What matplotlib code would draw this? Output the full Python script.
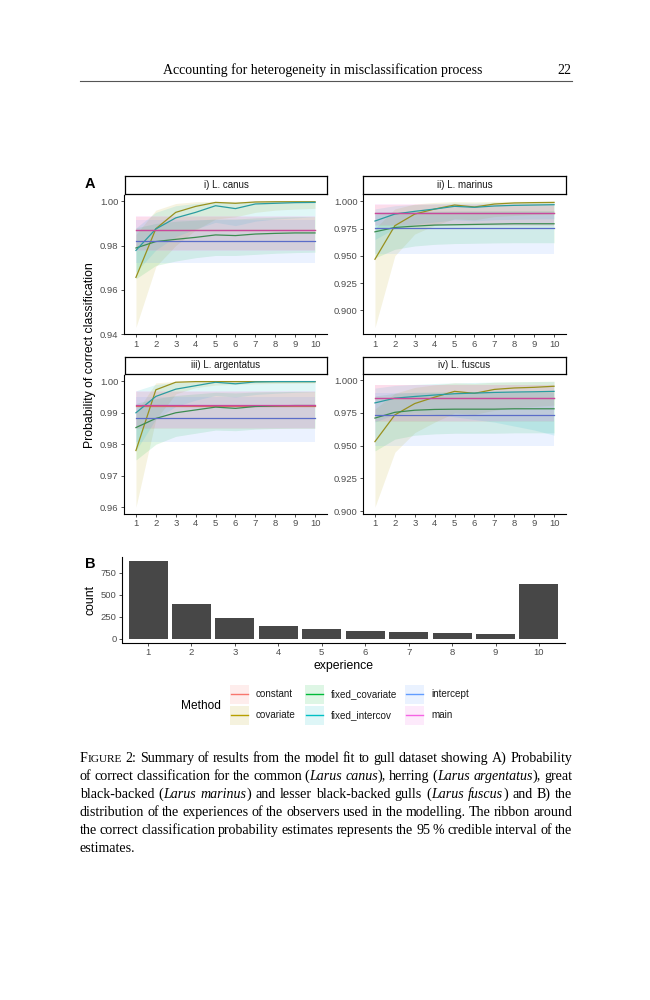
import matplotlib
matplotlib.use('Agg')
import matplotlib.pyplot as plt
import numpy as np
from matplotlib.patches import Rectangle
from matplotlib.lines import Line2D

# ---------------- data ----------------
experience = list(range(1, 11))
methods = ["constant", "covariate", "fixed_covariate", "fixed_intercov", "intercept", "main"]
species_titles = ["i) L. canus", "ii) L. marinus", "iii) L. argentatus", "iv) L. fuscus"]

# i) L. canus
canus_covariate = [0.9656, 0.9876, 0.9950, 0.9977, 0.9995, 0.9991, 0.9997, 0.9998, 0.9998, 0.9998]
canus_covariate_lo = [0.9430, 0.9705, 0.9800, 0.9870, 0.9920, 0.9930, 0.9950, 0.9960, 0.9965, 0.9968]
canus_covariate_hi = [0.9850, 0.9960, 0.9990, 0.9998, 1.0, 1.0, 1.0, 1.0, 1.0, 1.0]
canus_fixed_intercov = [0.9778, 0.9875, 0.9925, 0.9950, 0.9980, 0.9967, 0.9988, 0.9991, 0.9994, 0.9995]
canus_fixed_intercov_lo = [0.9680, 0.9780, 0.9840, 0.9875, 0.9905, 0.9890, 0.9910, 0.9920, 0.9925, 0.9930]
canus_fixed_intercov_hi = [0.9880, 0.9950, 0.9980, 0.9990, 0.9997, 0.9995, 0.9999, 1.0, 1.0, 1.0]
canus_fixed_covariate = [0.9789, 0.9818, 0.9828, 0.9837, 0.9848, 0.9845, 0.9852, 0.9855, 0.9857, 0.9857]
canus_fixed_covariate_lo = [0.9650, 0.9710, 0.9730, 0.9745, 0.9755, 0.9755, 0.9760, 0.9765, 0.9768, 0.9770]
canus_fixed_covariate_hi = [0.9880, 0.9900, 0.9910, 0.9915, 0.9920, 0.9920, 0.9925, 0.9928, 0.9930, 0.9930]
canus_flat = {"constant": (0.9868, 0.9780, 0.9930), "intercept": (0.9822, 0.9720, 0.9915), "main": (0.9870, 0.9774, 0.9934)}

# ii) L. marinus
marinus_covariate = [0.9468, 0.9776, 0.9883, 0.9929, 0.9966, 0.9948, 0.9975, 0.9985, 0.9988, 0.9990]
marinus_covariate_lo = [0.8840, 0.9500, 0.9700, 0.9780, 0.9840, 0.9830, 0.9860, 0.9870, 0.9880, 0.9885]
marinus_covariate_hi = [0.9750, 0.9930, 0.9975, 0.9990, 0.9998, 0.9995, 0.9999, 1.0, 1.0, 1.0]
marinus_fixed_intercov = [0.9819, 0.9883, 0.9908, 0.9929, 0.9954, 0.9945, 0.9957, 0.9963, 0.9966, 0.9969]
marinus_fixed_intercov_lo = [0.9650, 0.9750, 0.9790, 0.9810, 0.9830, 0.9820, 0.9830, 0.9835, 0.9838, 0.9840]
marinus_fixed_intercov_hi = [0.9930, 0.9960, 0.9970, 0.9978, 0.9985, 0.9983, 0.9987, 0.9989, 0.9990, 0.9991]
marinus_fixed_covariate = [0.9720, 0.9760, 0.9772, 0.9782, 0.9785, 0.9788, 0.9791, 0.9794, 0.9794, 0.9794]
marinus_fixed_covariate_lo = [0.9480, 0.9560, 0.9590, 0.9605, 0.9612, 0.9615, 0.9618, 0.9620, 0.9620, 0.9620]
marinus_fixed_covariate_hi = [0.9880, 0.9900, 0.9905, 0.9910, 0.9912, 0.9913, 0.9914, 0.9915, 0.9915, 0.9915]
marinus_flat = {"constant": (0.9893, 0.9770, 0.9970), "intercept": (0.9751, 0.9517, 0.9900), "main": (0.9895, 0.9780, 0.9975)}

# iii) L. argentatus
argentatus_covariate = [0.9780, 0.9973, 0.9997, 0.9999, 0.9999, 0.9999, 0.9999, 0.9999, 0.9999, 0.9999]
argentatus_covariate_lo = [0.9600, 0.9880, 0.9960, 0.9980, 0.9988, 0.9990, 0.9992, 0.9993, 0.9994, 0.9995]
argentatus_covariate_hi = [0.9900, 0.9995, 1.0, 1.0, 1.0, 1.0, 1.0, 1.0, 1.0, 1.0]
argentatus_fixed_intercov = [0.9900, 0.9952, 0.9975, 0.9986, 0.9997, 0.9992, 0.9998, 0.9999, 0.9999, 0.9999]
argentatus_fixed_intercov_lo = [0.9780, 0.9880, 0.9920, 0.9940, 0.9955, 0.9950, 0.9958, 0.9962, 0.9965, 0.9967]
argentatus_fixed_intercov_hi = [0.9970, 0.9990, 0.9996, 0.9998, 1.0, 1.0, 1.0, 1.0, 1.0, 1.0]
argentatus_fixed_covariate = [0.9853, 0.9882, 0.9900, 0.9909, 0.9918, 0.9914, 0.9920, 0.9922, 0.9923, 0.9923]
argentatus_fixed_covariate_lo = [0.9750, 0.9800, 0.9825, 0.9835, 0.9845, 0.9843, 0.9848, 0.9850, 0.9851, 0.9851]
argentatus_fixed_covariate_hi = [0.9930, 0.9945, 0.9955, 0.9960, 0.9965, 0.9963, 0.9966, 0.9967, 0.9968, 0.9968]
argentatus_flat = {"constant": (0.9923, 0.9850, 0.9967), "intercept": (0.9884, 0.9808, 0.9950), "main": (0.9925, 0.9853, 0.9969)}

# iv) L. fuscus
fuscus_covariate = [0.9531, 0.9735, 0.9822, 0.9871, 0.9915, 0.9900, 0.9930, 0.9941, 0.9946, 0.9954]
fuscus_covariate_lo = [0.9030, 0.9450, 0.9600, 0.9680, 0.9750, 0.9740, 0.9770, 0.9790, 0.9800, 0.9810]
fuscus_covariate_hi = [0.9780, 0.9900, 0.9945, 0.9965, 0.9980, 0.9975, 0.9985, 0.9988, 0.9990, 0.9992]
fuscus_fixed_intercov = [0.9827, 0.9863, 0.9876, 0.9887, 0.9897, 0.9902, 0.9907, 0.9910, 0.9912, 0.9915]
fuscus_fixed_intercov_lo = [0.9680, 0.9740, 0.9750, 0.9740, 0.9720, 0.9700, 0.9680, 0.9650, 0.9620, 0.9580]
fuscus_fixed_intercov_hi = [0.9940, 0.9960, 0.9968, 0.9975, 0.9980, 0.9983, 0.9986, 0.9988, 0.9990, 0.9992]
fuscus_fixed_covariate = [0.9711, 0.9755, 0.9771, 0.9777, 0.9779, 0.9779, 0.9779, 0.9782, 0.9782, 0.9782]
fuscus_fixed_covariate_lo = [0.9460, 0.9550, 0.9580, 0.9590, 0.9595, 0.9595, 0.9595, 0.9598, 0.9598, 0.9598]
fuscus_fixed_covariate_hi = [0.9880, 0.9900, 0.9908, 0.9910, 0.9912, 0.9912, 0.9912, 0.9913, 0.9913, 0.9913]
fuscus_flat = {"constant": (0.9862, 0.9680, 0.9960), "intercept": (0.9732, 0.9500, 0.9900), "main": (0.9866, 0.9686, 0.9964)}

panel_yticks = [[0.94, 0.96, 0.98, 1.00],
                [0.900, 0.925, 0.950, 0.975, 1.000],
                [0.96, 0.97, 0.98, 0.99, 1.00],
                [0.900, 0.925, 0.950, 0.975, 1.000]]
panel_yfmt = ["%.2f", "%.3f", "%.2f", "%.3f"]

experience_counts = [884, 392, 229, 149, 114, 91, 80, 61, 53, 621]
count_ticks = [0, 250, 500, 750]

panels = [
    dict(covariate=(canus_covariate, canus_covariate_lo, canus_covariate_hi),
         fixed_covariate=(canus_fixed_covariate, canus_fixed_covariate_lo, canus_fixed_covariate_hi),
         fixed_intercov=(canus_fixed_intercov, canus_fixed_intercov_lo, canus_fixed_intercov_hi),
         flat=canus_flat),
    dict(covariate=(marinus_covariate, marinus_covariate_lo, marinus_covariate_hi),
         fixed_covariate=(marinus_fixed_covariate, marinus_fixed_covariate_lo, marinus_fixed_covariate_hi),
         fixed_intercov=(marinus_fixed_intercov, marinus_fixed_intercov_lo, marinus_fixed_intercov_hi),
         flat=marinus_flat),
    dict(covariate=(argentatus_covariate, argentatus_covariate_lo, argentatus_covariate_hi),
         fixed_covariate=(argentatus_fixed_covariate, argentatus_fixed_covariate_lo, argentatus_fixed_covariate_hi),
         fixed_intercov=(argentatus_fixed_intercov, argentatus_fixed_intercov_lo, argentatus_fixed_intercov_hi),
         flat=argentatus_flat),
    dict(covariate=(fuscus_covariate, fuscus_covariate_lo, fuscus_covariate_hi),
         fixed_covariate=(fuscus_fixed_covariate, fuscus_fixed_covariate_lo, fuscus_fixed_covariate_hi),
         fixed_intercov=(fuscus_fixed_intercov, fuscus_fixed_intercov_lo, fuscus_fixed_intercov_hi),
         flat=fuscus_flat),
]

fill_colors = {"constant": "#F8766D", "covariate": "#B79F00", "fixed_covariate": "#00BA38",
               "fixed_intercov": "#00BFC4", "intercept": "#619CFF", "main": "#F564E3"}
line_colors = {"constant": "#D86A64", "covariate": "#98901E", "fixed_covariate": "#3C8C50",
               "fixed_intercov": "#2A9CA0", "intercept": "#5A6CC8", "main": "#C8489C"}

# ---------------- figure ----------------
W, H = 650, 1000
fig = plt.figure(figsize=(6.5, 10), dpi=100)
SANS = ['Liberation Sans', 'DejaVu Sans']
SERIF = ['Liberation Serif', 'DejaVu Serif']
TICKC = '#4D4D4D'


def px_axes(x0, y0, x1, y1, **kw):
    return fig.add_axes([x0 / W, 1 - y1 / H, (x1 - x0) / W, (y1 - y0) / H], **kw)


def style_axes(ax):
    for s in ['top', 'right']:
        ax.spines[s].set_visible(False)
    for s in ['left', 'bottom']:
        ax.spines[s].set_linewidth(0.8)
        ax.spines[s].set_color('black')
    ax.tick_params(length=2.5, width=0.6, color='#333333', labelsize=6.8,
                   labelcolor=TICKC, pad=1.5)
    for lab in ax.get_xticklabels() + ax.get_yticklabels():
        lab.set_family(SANS)


panel_boxes = [(124, 195, 327, 334), (363, 195, 566, 334),
               (124, 375, 327, 513.5), (363, 375, 566, 513.5)]
strip_boxes = [(125, 176, 327, 194), (363, 176, 566, 194),
               (125, 357, 327, 374), (363, 357, 566, 374)]

x = np.array(experience)
for i, pdata in enumerate(panels):
    ax = px_axes(*panel_boxes[i])
    lows, highs = [], []
    for m in methods:
        if m in pdata['flat']:
            mu, lo, hi = pdata['flat'][m]
            lo_a = np.full(10, lo)
            hi_a = np.full(10, hi)
        else:
            mu, lo_a, hi_a = pdata[m]
            lo_a, hi_a = np.array(lo_a), np.array(hi_a)
        lows.append(lo_a.min())
        highs.append(hi_a.max())
        ax.fill_between(x, lo_a, hi_a, color=fill_colors[m], alpha=0.12, linewidth=0)
    for m in methods:
        if m in pdata['flat']:
            mu_a = np.full(10, pdata['flat'][m][0])
        else:
            mu_a = np.array(pdata[m][0])
        ax.plot(x, mu_a, color=line_colors[m], lw=0.9)
    lo_all, hi_all = min(lows), max(highs)
    pad = 0.05 * (hi_all - lo_all)
    ax.set_ylim(lo_all - pad, hi_all + pad)
    ax.set_xlim(0.4, 10.6)
    ax.set_xticks(experience)
    ax.set_xticklabels([str(v) for v in experience])
    ax.set_yticks(panel_yticks[i])
    ax.set_yticklabels([panel_yfmt[i] % v for v in panel_yticks[i]])
    ax.set_facecolor('white')
    style_axes(ax)

    sax = px_axes(*strip_boxes[i])
    sax.set_xticks([])
    sax.set_yticks([])
    for s in sax.spines.values():
        s.set_linewidth(0.9)
        s.set_color('black')
    sax.text(0.5, 0.5, species_titles[i], ha='center', va='center', fontsize=7.0,
             color='#1A1A1A', family=SANS, transform=sax.transAxes)

# bar chart B
bax = px_axes(122, 557, 565, 642.5)
bax.bar(experience, experience_counts, width=0.9, color='#474747')
bax.set_xlim(0.4, 10.6)
top = max(experience_counts)
bax.set_ylim(-0.05 * top, 1.05 * top)
bax.set_xticks(experience)
bax.set_xticklabels([str(v) for v in experience])
bax.set_yticks(count_ticks)
bax.set_yticklabels([str(v) for v in count_ticks])
style_axes(bax)
bax.set_xlabel('experience', fontsize=8.8, family=SANS, labelpad=2)

# ---------------- overlay for text & legend ----------------
ov = fig.add_axes([0, 0, 1, 1], zorder=-1)
ov.set_xlim(0, W)
ov.set_ylim(H, 0)
ov.axis('off')

ov.text(90, 184, 'A', fontsize=10.5, fontweight='bold', family=SANS, ha='center', va='center')
ov.text(90, 564, 'B', fontsize=10.5, fontweight='bold', family=SANS, ha='center', va='center')
ov.text(90, 355, 'Probability of correct classification', rotation=90, fontsize=8.8,
        family=SANS, ha='center', va='center')
ov.text(90, 600, 'count', rotation=90, fontsize=8.8, family=SANS, ha='center', va='center')

# legend
ov.text(181, 706, 'Method', fontsize=8.6, family=SANS, ha='left', va='center')
leg_cols = [(230, 256), (305, 331), (405, 431)]
leg_rows = [694, 715]
for k, m in enumerate(methods):
    col, row = k // 2, k % 2
    kx, tx = leg_cols[col]
    cy = leg_rows[row]
    ov.add_patch(Rectangle((kx, cy - 9.5), 19, 19, facecolor=fill_colors[m], alpha=0.13,
                           edgecolor='none'))
    ov.add_line(Line2D([kx + 1, kx + 18], [cy, cy], color=fill_colors[m], lw=1.0))
    ov.text(tx, cy, m, fontsize=7.1, family=SANS, ha='left', va='center', color='#1A1A1A')

# header
ov.text(323, 74, 'Accounting for heterogeneity in misclassification process', fontsize=10,
        family=SERIF, ha='center', va='baseline')
ov.text(571, 74, '22', fontsize=10, family=SERIF, ha='right', va='baseline')
ov.add_line(Line2D([80, 572], [81, 81], color='#555555', lw=0.8))

# caption (justified)
caption_lines = [
    "F^IGURE^ 2: Summary of results from the model fit to gull dataset showing A) Probability",
    "of correct classification for the common (*Larus canus*), herring (*Larus argentatus*), great",
    "black-backed (*Larus marinus*) and lesser black-backed gulls (*Larus fuscus*) and B) the",
    "distribution of the experiences of the observers used in the modelling. The ribbon around",
    "the correct classification probability estimates represents the 95 % credible interval of the",
    "estimates.",
]
CAP_FS = 10.1
renderer = fig.canvas.get_renderer()


def parse(s):
    words, runs, cur, it, sm = [], [], '', False, False
    for c in s:
        if c in '*^':
            if cur:
                runs.append((cur, it, sm))
                cur = ''
            if c == '*':
                it = not it
            else:
                sm = not sm
        elif c == ' ':
            if cur:
                runs.append((cur, it, sm))
                cur = ''
            if runs:
                words.append(runs)
            runs = []
        else:
            cur += c
    if cur:
        runs.append((cur, it, sm))
    if runs:
        words.append(runs)
    return words


def mk(xp, yp, txt, it, sm):
    return ov.text(xp, yp, txt, fontsize=CAP_FS * (0.8 if sm else 1.0), family=SERIF,
                   style='italic' if it else 'normal', ha='left', va='baseline')


def width_of(t):
    return t.get_window_extent(renderer).width


_t1 = ov.text(300, 500, 'a a', fontsize=CAP_FS, family=SERIF)
_t2 = ov.text(300, 500, 'aa', fontsize=CAP_FS, family=SERIF)
space_w = width_of(_t1) - width_of(_t2)
_t1.remove()
_t2.remove()

LX0, LX1 = 80, 572
for li, line in enumerate(caption_lines):
    yb = 762 + 18 * li
    words = parse(line)
    placed = []
    for w in words:
        runs = []
        for (txt, it, sm) in w:
            t = mk(LX0, yb, txt, it, sm)
            runs.append((t, width_of(t)))
        placed.append(runs)
    wsum = [sum(r[1] for r in runs) for runs in placed]
    total = sum(wsum)
    if li < len(caption_lines) - 1 and len(placed) > 1:
        gap = (LX1 - LX0 - total) / (len(placed) - 1)
    else:
        gap = space_w
    xc = LX0
    for runs, ww in zip(placed, wsum):
        xr = xc
        for t, tw in runs:
            t.set_x(xr)
            xr += tw
        xc += ww + gap

fig.savefig('out.png', dpi=100)
